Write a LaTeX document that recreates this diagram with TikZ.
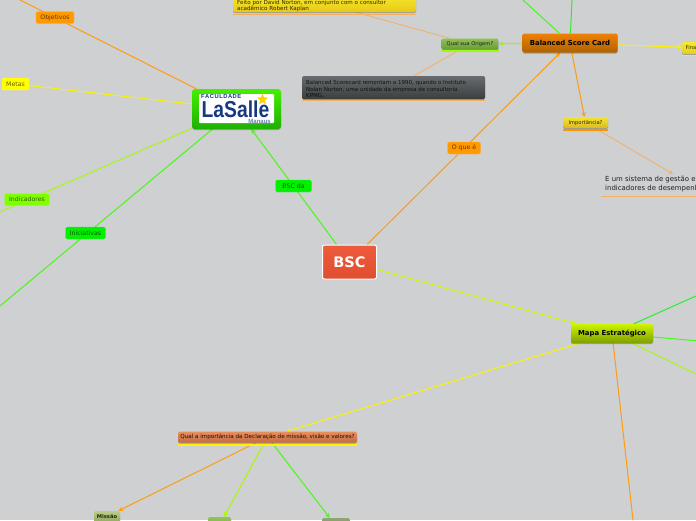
\documentclass[tikz,border=0pt]{standalone}
\usepackage{fontspec}
\setmainfont{DejaVu Sans}
\newfontfamily\logofont{Liberation Sans}
\usetikzlibrary{arrows.meta,shapes.geometric,shadows}
\pgfdeclarelayer{pagebg}
\pgfdeclarelayer{edges}
\pgfsetlayers{pagebg,edges,main}
\definecolor{pagegray}{HTML}{CED0D2}
\definecolor{lineorange}{HTML}{FF9C10}
\definecolor{linepale}{HTML}{F5B060}
\definecolor{lineyellow}{HTML}{F8F400}
\definecolor{linelime}{HTML}{A8F810}
\definecolor{linegreen}{HTML}{48F818}
\definecolor{linegreenb}{HTML}{28F028}
\definecolor{logoblue}{HTML}{17397F}
\definecolor{cardtop}{HTML}{F08204}\definecolor{cardbot}{HTML}{AE6200}
\definecolor{maptop}{HTML}{CDF500}\definecolor{mapbot}{HTML}{7E9E00}
\definecolor{logotopc}{HTML}{44F000}\definecolor{logobot}{HTML}{1FAE00}
\definecolor{origtop}{HTML}{8FC254}\definecolor{origbot}{HTML}{6B9A3E}
\definecolor{imptop}{HTML}{F2E62C}\definecolor{impbot}{HTML}{DDB820}
\definecolor{feitotop}{HTML}{F5E92A}\definecolor{feitobot}{HTML}{E8C818}
\definecolor{darktop}{HTML}{686C70}\definecolor{darkbot}{HTML}{3A3E3E}
\definecolor{finatop}{HTML}{F4EA2E}\definecolor{finabot}{HTML}{E4CE20}
\definecolor{decltop}{HTML}{E8905E}\definecolor{declbot}{HTML}{C86A40}
\definecolor{mistop}{HTML}{BCCE84}\definecolor{misbot}{HTML}{92A860}
\definecolor{vistop}{HTML}{92C25C}\definecolor{visbot}{HTML}{7AA848}
\definecolor{valtop}{HTML}{92A474}\definecolor{valbot}{HTML}{7A8E5C}
\definecolor{bsctop}{HTML}{EE5A3C}\definecolor{bscbot}{HTML}{E04E30}
\definecolor{tagorange}{HTML}{FF9900}
\definecolor{tagyellow}{HTML}{FFFF00}
\definecolor{taglime}{HTML}{80FF00}
\definecolor{taggreen}{HTML}{00F000}
\tikzset{
  sz/.style 2 args={minimum width=#1pt,minimum height=#2pt},
  fs/.style={font=\fontsize{#1}{8}\selectfont},
  tag/.style={rounded corners=1.5pt,inner sep=0pt,fill=#1,draw=#1!75!white,line width=.4pt,
    text=black,text opacity=.62,fs=6.2},
  grad/.style 2 args={rounded corners=1.5pt,inner sep=0pt,top color=#1,bottom color=#2,
    drop shadow={shadow xshift=0pt,shadow yshift=-1pt,fill=black,opacity=.25}},
  conn/.style={line width=1pt},
  thinconn/.style={line width=.8pt,linepale},
  tip/.style={-{Stealth[length=4.5pt,width=4.5pt]}},
  rule/.style={line width=#1,line cap=butt}
}
\begin{document}
\begin{tikzpicture}[x=1pt,y=-1pt]
\useasboundingbox (0,0) rectangle (696,520);
\begin{pgfonlayer}{pagebg}
  \fill[pagegray] (0,0) rectangle (696,520);
\end{pgfonlayer}

% central and main nodes
\node[rounded corners=2pt,inner sep=0pt,sz={54}{34},top color=bsctop,bottom color=bscbot,
  draw=white,line width=1pt,text=white,font=\fontsize{14.5}{16}\selectfont\bfseries] (bsc) at (349.5,262) {BSC};
\node[grad={cardtop}{cardbot},sz={95}{19},font=\fontsize{6.9}{8}\selectfont\bfseries,text=black] (card) at (570,43) {\raisebox{-.8pt}{Balanced Score Card}};
\node[grad={maptop}{mapbot},sz={82}{19},font=\fontsize{6.9}{8}\selectfont\bfseries,text=black] (mapa) at (612,333.5) {\raisebox{-.8pt}{Mapa Estratégico}};
\node[grad={logotopc}{logobot},sz={89}{40},rounded corners=3pt] (logo) at (236.5,109) {};
\node[fill=white,inner sep=0pt,sz={75}{29},rounded corners=1pt] (logobox) at (236.5,108.5) {};
\node[anchor=west,inner sep=0pt,text=logoblue,font=\logofont\fontsize{5.8}{7}\selectfont\bfseries] (logotop) at (201,96.3) {F\kern.5pt A\kern.5pt C\kern.5pt U\kern.5pt L\kern.5pt D\kern.5pt A\kern.5pt D\kern.5pt E};
\node[inner sep=0pt,text=logoblue,font=\logofont\fontsize{23}{25}\selectfont\bfseries] (logoname) at (235.5,109) {\scalebox{.84}[1]{LaSalle}};
\node[anchor=east,inner sep=0pt,text=logoblue!65!white,font=\logofont\fontsize{6}{7}\selectfont\bfseries] (logocity) at (271,121.8) {Manaus};
\node[star,star points=5,star point ratio=2.3,fill=yellow!70!orange,inner sep=0pt,minimum size=12pt] (logostar) at (262.5,99.5) {};

% small tags
\node[tag=tagorange,sz={38}{12}] (obj) at (55,17.5) {Objetivos};
\node[tag=tagyellow,sz={27}{12}] (metas) at (15.5,84) {Metas};
\node[tag=taglime,sz={45}{12}] (ind) at (27,199.5) {Indicadores};
\node[tag=taggreen,sz={40}{12}] (ini) at (85.5,233) {Iniciativas};
\node[tag=taggreen,sz={36}{12}] (bscda) at (293.5,186) {BSC da};
\node[tag=tagorange,sz={33}{12}] (oque) at (464,148) {O que é};

% boxes with a rule below
\node[grad={origtop}{origbot},sz={57}{11},text=black,text opacity=.8,fs=5.2] (origem) at (470,44) {Qual sua Origem?};
\draw[rule=1.6pt,color=green!40!yellow] ([yshift=-1.3pt]origem.south west) -- ([yshift=-1.3pt]origem.south east);
\node[grad={imptop}{impbot},sz={45}{11},text=black,text opacity=.8,fs=5.2] (imp) at (585.5,122.5) {Importância?};
\draw[rule=1.6pt,color=orange!85!yellow] ([yshift=-2pt]imp.south west) -- ([yshift=-2pt]imp.south east);
\node[grad={feitotop}{feitobot},sz={183}{17}] (feito) at (324.5,3.5) {};
\node[anchor=west,align=left,inner sep=0pt,text=black,text opacity=.8,font=\fontsize{5.6}{6.5}\selectfont] (feitotxt) at (237,5.8) {Feito por David Norton, em conjunto com o consultor\\acadêmico Robert Kaplan};
\draw[rule=.8pt,color=linepale] ([yshift=-1.7pt]feito.south west) -- ([yshift=-1.7pt]feito.south east);
\node[grad={darktop}{darkbot},sz={183}{23}] (dark) at (393.5,87.5) {};
\node[anchor=west,align=left,inner sep=0pt,text=black,text opacity=.8,font=\fontsize{5.5}{6.6}\selectfont] (darktxt) at (306,89.3) {Balanced Scorecard remontam a 1990, quando o Instituto\\Nolan Norton, uma unidade da empresa de consultoria\\KPMG,};
\draw[rule=.6pt,color=linepale] ([yshift=-1.2pt]dark.south west) -- ([yshift=-1.2pt]dark.south east);
\node[grad={finatop}{finabot},sz={40}{12}] (fina) at (702,48) {};
\node[anchor=west,inner sep=0pt,text=black,text opacity=.8,fs=5.2] (finatxt) at (685.5,48) {Fina};
\draw[rule=1.5pt,color=yellow] ([yshift=-1.5pt]fina.south west) -- ([yshift=-1.5pt]fina.south east);
\node[anchor=north west,align=left,inner sep=0pt,text=black,text opacity=.85,font=\fontsize{6.95}{9}\selectfont] (sist) at (605,176.3) {E um sistema de gestão e\\indicadores de desempenh};
\coordinate (sistleft) at (601,196.5);
\coordinate (sistright) at (696,196.5);
\draw[rule=.6pt,color=linepale] (sistleft) -- (sistright);
\node[grad={decltop}{declbot},sz={179}{11},text=black,text opacity=.9,font=\fontsize{5.6}{7}\selectfont] (decl) at (267.5,437) {Qual a importância da Declaração de missão, visão e valores?};
\draw[rule=2pt,color=yellow] ([yshift=-2pt]decl.south west) -- ([yshift=-2pt]decl.south east);
\node[grad={mistop}{misbot},sz={26}{11},text=black,text opacity=.8,font=\fontsize{5.2}{6}\selectfont\bfseries] (missao) at (107,516.5) {Missão};
\node[grad={vistop}{visbot},sz={23}{16}] (visao) at (219.5,525) {};
\node[grad={valtop}{valbot},sz={28}{16}] (valores) at (336,526) {};

% free ends at the picture's edge
\coordinate (objfree) at (20,0);
\coordinate (indfree) at (0,212);
\coordinate (inifree) at (0,306);
\coordinate (topa) at (523,0);
\coordinate (topb) at (572,0);
\coordinate (mapr1) at (696,296);
\coordinate (mapr2) at (696,340.7);
\coordinate (mapr3) at (696,374);
\coordinate (mapb) at (633,520);
\coordinate (sisttop) at (673,174);

\begin{pgfonlayer}{edges}
  \draw[conn,lineorange] (objfree) -- (logo);
  \draw[conn,lineyellow] (metas) -- (logo);
  \draw[conn,linelime] (indfree) -- (logo);
  \draw[conn,linegreen] (inifree) -- (logo);
  \draw[conn,linegreen,tip] (bsc) -- (logo);
  \draw[conn,lineorange,tip] (bsc) -- (card);
  \draw[conn,lineyellow!85!green,tip] (bsc) -- (mapa);
  \draw[conn,lineyellow,tip] (mapa) -- (decl);
  \draw[line width=1.2pt,green!45!yellow,tip] (card) -- (origem);
  \draw[conn,yellow,tip] (card) -- (fina);
  \draw[conn,lineorange,tip] (card) -- (imp);
  \draw[thinconn,tip] (imp) -- (sisttop);
  \draw[thinconn] (origem) -- (feito);
  \draw[thinconn] (origem) -- (dark);
  \draw[conn,linegreen] (topa) -- (card);
  \draw[conn,linegreenb] (topb) -- (card);
  \draw[conn,linegreenb] (mapr1) -- (mapa);
  \draw[conn,linegreen] (mapr2) -- (mapa);
  \draw[conn,linelime] (mapr3) -- (mapa);
  \draw[conn,lineorange] (mapb) -- (mapa);
  \draw[conn,lineorange,tip] (decl) -- (missao);
  \draw[conn,lineyellow!70!green,tip] (decl) -- (visao);
  \draw[conn,linegreen,tip] (decl) -- (valores);
\end{pgfonlayer}
\end{tikzpicture}
\end{document}
